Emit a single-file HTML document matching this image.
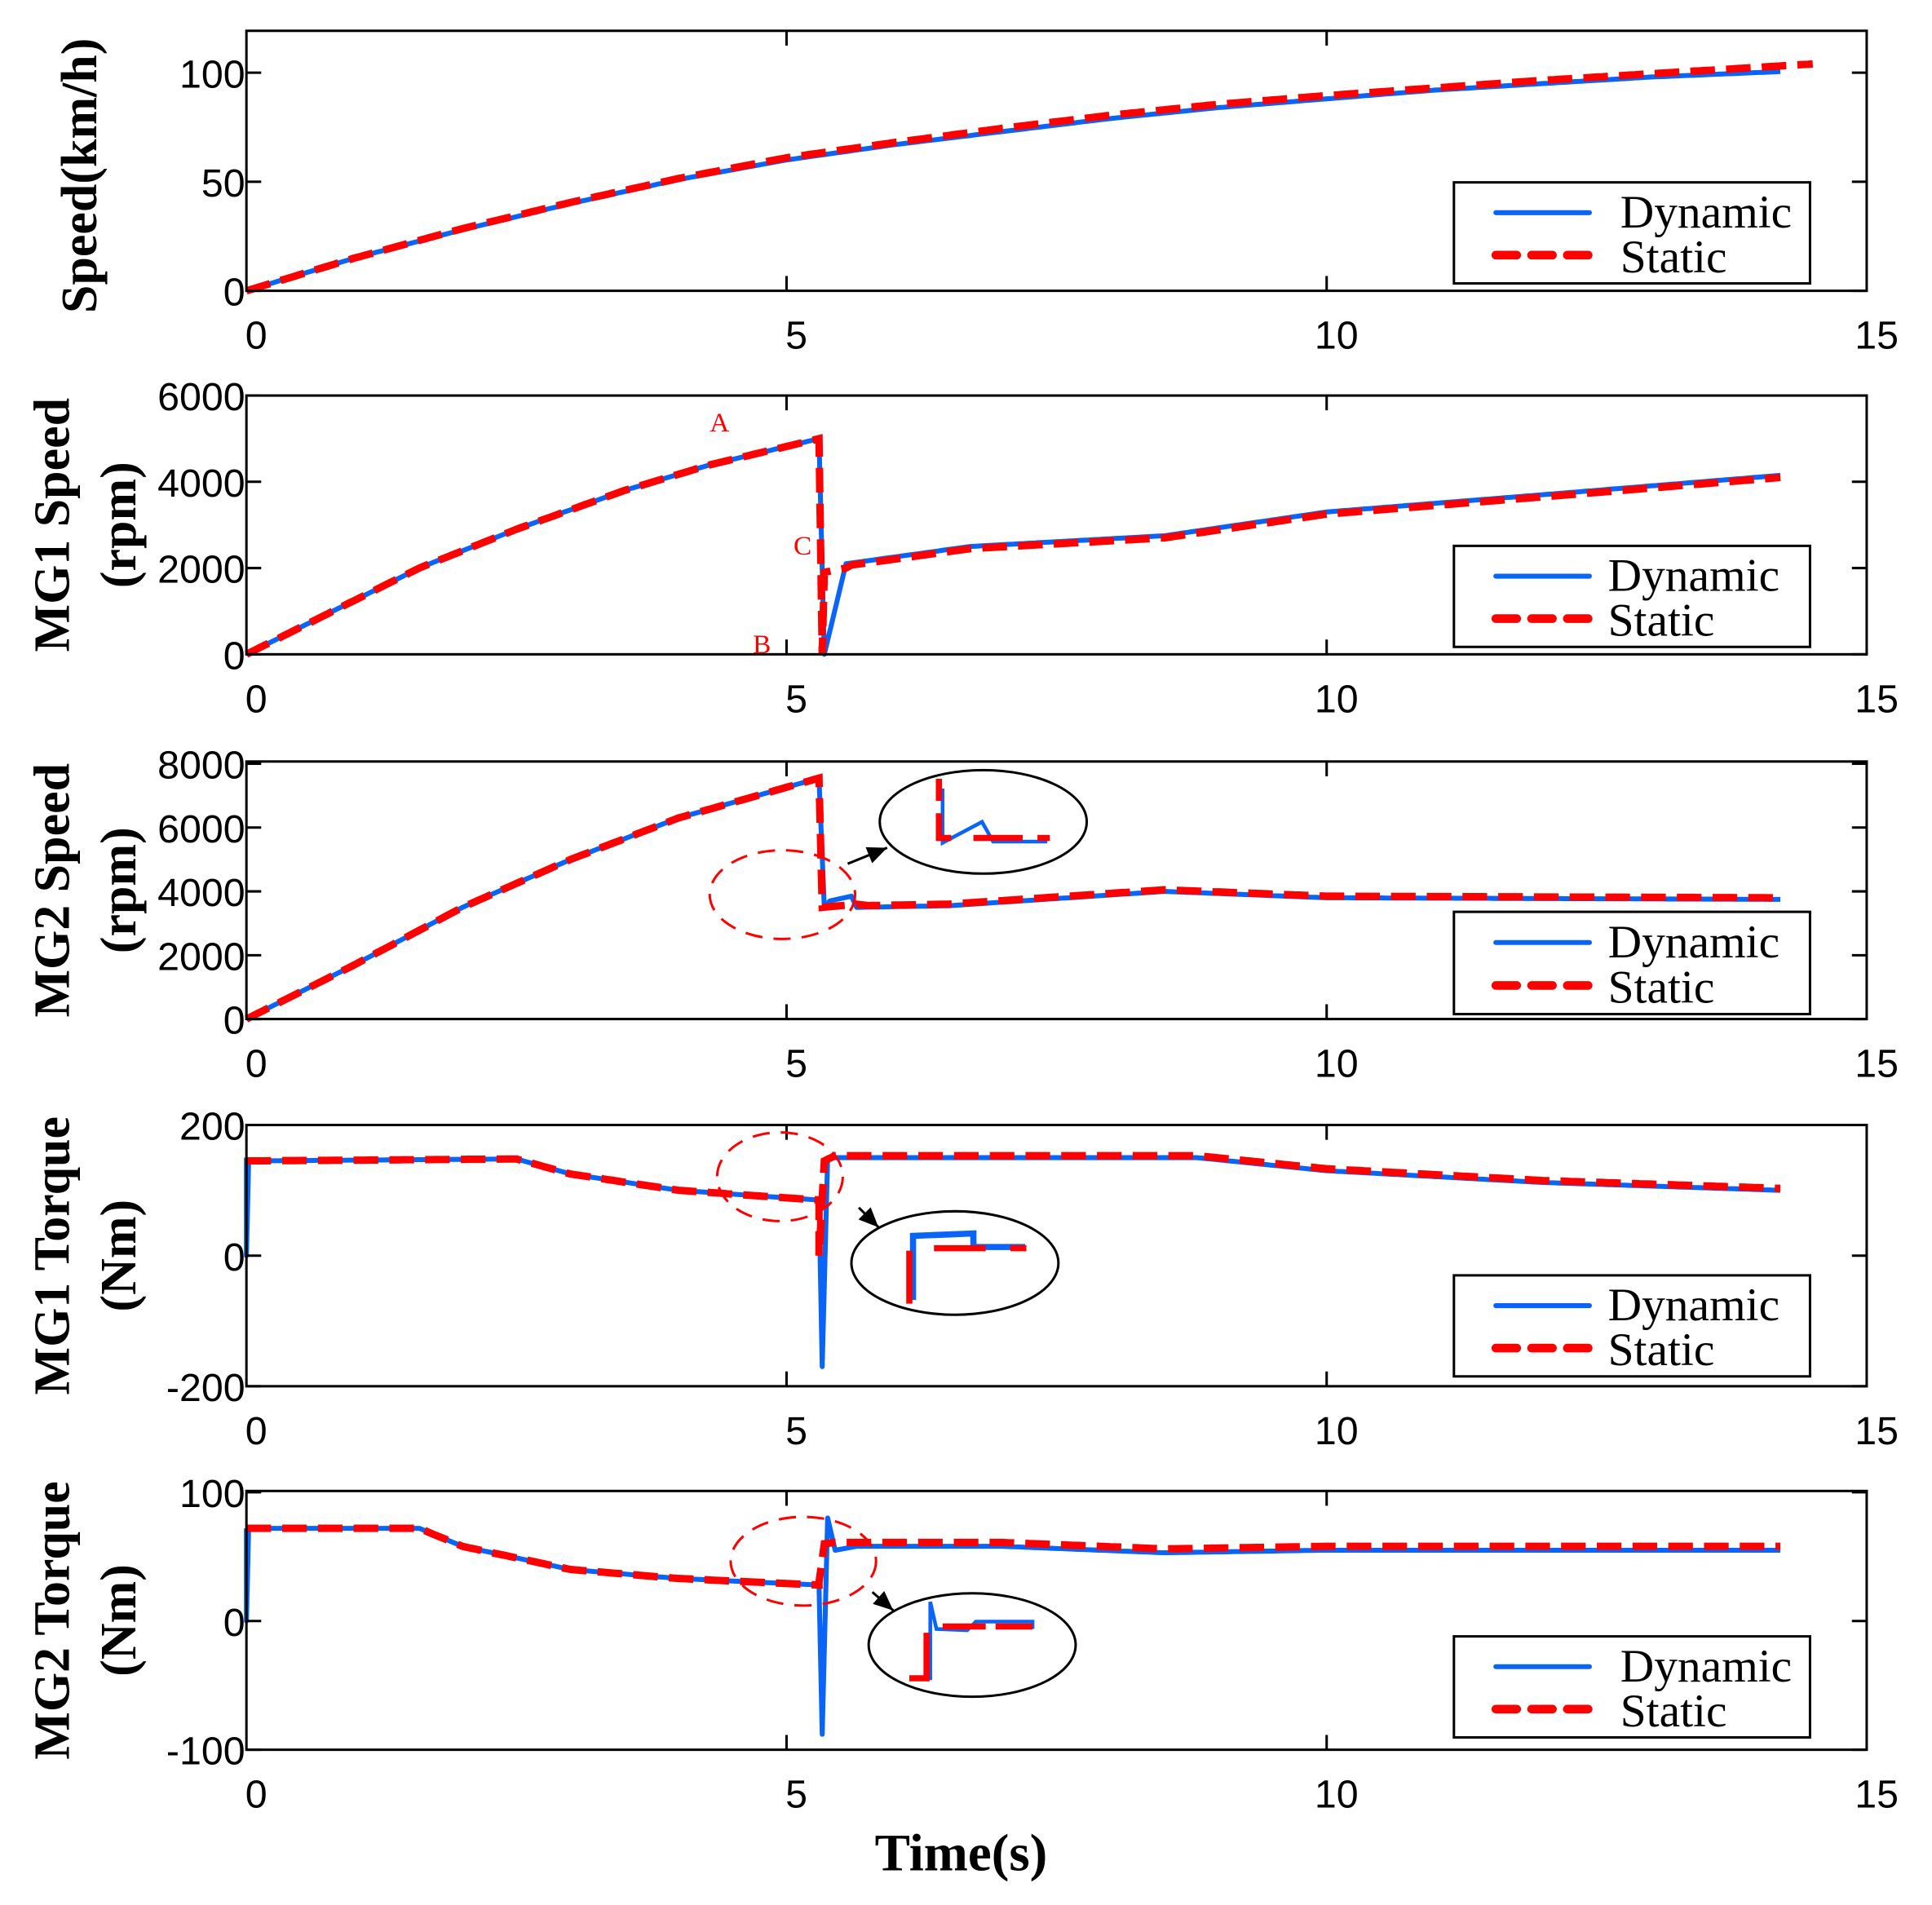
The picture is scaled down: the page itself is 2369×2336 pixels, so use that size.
<!DOCTYPE html>
<html><head><meta charset="utf-8"><style>html,body{margin:0;padding:0;background:#fff}svg{display:block}</style></head>
<body>
<svg id="s" xmlns="http://www.w3.org/2000/svg" width="2369" height="2336" viewBox="0 0 1568 1546" preserveAspectRatio="none" font-family="Liberation Sans, sans-serif">
<rect width="1568" height="1546" fill="#fff"/>
<g id="g"></g>
</svg>
<script>
const g=document.getElementById('g');let h='';
const X=t=>200+t*87.67;
function interp(pts,t){for(let i=1;i<pts.length;i++){if(t<=pts[i][0]){const a=pts[i-1],b=pts[i];const f=(t-a[0])/(b[0]-a[0]||1);return a[1]+f*(b[1]-a[1]);}}return pts[pts.length-1][1];}
function smooth(pts,t0,t1){const r=[];for(let t=t0;t<=t1+1e-9;t+=0.05)r.push([t,interp(pts,t)]);return r;}
const panels=[
 {top:25,bot:236,min:0,max:119.2,ticks:[0,50,100],lab:['Speed(km/h)'],leg:[148,230],lx:1315},
 {top:321,bot:531,min:0,max:6000,ticks:[0,2000,4000,6000],lab:['MG1 Speed','(rpm)'],leg:[443,525],lx:1305},
 {top:618,bot:827,min:0,max:8070,ticks:[0,2000,4000,6000,8000],lab:['MG2 Speed','(rpm)'],leg:[740,823],lx:1305},
 {top:913,bot:1125,min:-200,max:200,ticks:[-200,0,200],lab:['MG1 Torque','(Nm)'],leg:[1035,1117],lx:1305},
 {top:1210,bot:1420,min:-100,max:101,ticks:[-100,0,100],lab:['MG2 Torque','(Nm)'],leg:[1328,1410],lx:1315}
];
function path(p,pts){return pts.map((q,i)=>(i?'L':'M')+X(q[0]).toFixed(1)+','+(p.bot-(q[1]-p.min)/(p.max-p.min)*(p.bot-p.top)).toFixed(1)).join('');}
function blue(p,pts){h+=`<path d="${path(p,pts)}" fill="none" stroke="#0a64f5" stroke-width="4" stroke-linejoin="round"/>`;}
function red(p,pts){h+=`<path d="${path(p,pts)}" fill="none" stroke="#f00" stroke-width="6" stroke-dasharray="20 9"/>`;}
const sp=[[0,0],[1,15],[2,28],[3,40],[4,51],[5,60],[6,67],[7,73],[8,79],[9,84],[10,88],[11,92],[12,95],[13,98],[14.2,100.5],[14.5,101.5]];
const spr=[[0,0],[1,15],[2,28.5],[3,40.5],[4,51.5],[5,61],[6,68],[7,74.5],[8,80.5],[9,85.5],[10,89.5],[11,93],[12,96.5],[13,99.5],[14.5,104]];
const E=5.3;
const mg1a=[[0,0],[1,1250],[1.6,2000],[2.5,2900],[3.5,3800],[4.3,4400],[E,5000]];
const mg1b=[[5.55,2100],[6.7,2500],[8.5,2750],[10,3300],[12,3700],[14.2,4150]];
const mg2a=[[0,0],[1,1700],[2,3500],[3,5000],[4,6300],[E,7550]];
const mg2b=[[5.65,3500],[6.5,3550],[8.5,4000],[10,3800],[14.2,3750]];
const t1a=[[0,145],[2.5,148],[3,125],[4,100],[E,85]];
const t1b=[[5.4,150],[8.8,150],[10,130],[12,112],[14.2,100]];
const t2a=[[0,72],[1.6,72],[2,58],[3,40],[4,33],[E,28]];
const t2b=[[5.45,58],[7,58],[8.5,53],[10,55],[14.2,55]];
const P=panels;
blue(P[0],smooth(sp,0,14.2));red(P[0],smooth(spr,0,14.5));
blue(P[1],smooth(mg1a,0,E).concat([[5.35,0],[5.55,2100]],smooth(mg1b,5.55,14.2)));
red(P[1],smooth(mg1a,0,E).concat([[5.33,0],[5.35,1900],[5.55,2000]],smooth(mg1b,5.6,14.2).map(q=>[q[0],q[1]-50])));
blue(P[2],smooth(mg2a,0,E).concat([[5.35,3500],[5.4,3700],[5.6,3850],[5.65,3500]],smooth(mg2b,5.65,14.2)));
red(P[2],smooth(mg2a,0,E).concat([[5.33,3500],[5.65,3600]],smooth(mg2b,5.75,14.2).map(q=>[q[0],q[1]+50])));
blue(P[3],[[0,150],[0,0],[0.02,145]].concat(smooth(t1a,0.05,E),[[5.33,-170],[5.38,150]],smooth(t1b,5.4,14.2)));
red(P[3],smooth(t1a,0,E).concat([[E,0],[5.35,145]],smooth(t1b,5.45,14.2).map(q=>[q[0],q[1]+3])));
blue(P[4],[[0,72],[0,0],[0.02,72]].concat(smooth(t2a,0.05,E),[[5.33,-88],[5.38,80],[5.45,55],[5.65,58]],smooth(t2b,5.65,14.2)));
red(P[4],smooth(t2a,0,E).concat([[E,30],[5.35,60]],smooth(t2b,5.45,14.2).map(q=>[q[0],q[1]+3])));
P.forEach((p,i)=>{
 h+=`<rect x="200" y="${p.top}" width="1315" height="${p.bot-p.top}" fill="none" stroke="#000" stroke-width="2"/>`;
 [5,10].forEach(t=>{h+=`<line x1="${X(t)}" y1="${p.top}" x2="${X(t)}" y2="${p.top+12}" stroke="#000" stroke-width="2"/><line x1="${X(t)}" y1="${p.bot}" x2="${X(t)}" y2="${p.bot-12}" stroke="#000" stroke-width="2"/>`;});
 [0,5,10,15].forEach(t=>{h+=`<text x="${X(t)+8}" y="${p.bot+47}" font-size="32" text-anchor="middle">${t}</text>`;});
 p.ticks.forEach(v=>{const y=p.bot-(v-p.min)/(p.max-p.min)*(p.bot-p.top);
  h+=`<line x1="200" y1="${y}" x2="212" y2="${y}" stroke="#000" stroke-width="2"/><line x1="1515" y1="${y}" x2="1503" y2="${y}" stroke="#000" stroke-width="2"/>`;
  h+=`<text x="199" y="${y+12}" font-size="32" text-anchor="end">${v}</text>`;});
 const cy=(p.top+p.bot)/2;
 if(p.lab.length==1){h+=`<text transform="translate(78,${cy+12}) rotate(-90)" font-family="Liberation Serif, serif" font-weight="bold" font-size="41" text-anchor="middle">${p.lab[0]}</text>`;}
 else{h+=`<text transform="translate(56,${cy}) rotate(-90)" font-family="Liberation Serif, serif" font-weight="bold" font-size="41" text-anchor="middle">${p.lab[0]}</text><text transform="translate(110,${cy}) rotate(-90)" font-family="Liberation Serif, serif" font-weight="bold" font-size="41" text-anchor="middle">${p.lab[1]}</text>`;}
 const [ly0,ly1]=p.leg;const m1=ly0+(ly1-ly0)*0.3,m2=ly0+(ly1-ly0)*0.72;
 h+=`<rect x="1180" y="${ly0}" width="289" height="${ly1-ly0}" fill="#fff" stroke="#000" stroke-width="2"/>`;
 h+=`<line x1="1214" y1="${m1}" x2="1290" y2="${m1}" stroke="#0a64f5" stroke-width="4" stroke-linecap="round"/>`;
 h+=`<line x1="1214" y1="${m2}" x2="1290" y2="${m2}" stroke="#f00" stroke-width="7" stroke-dasharray="17 12" stroke-linecap="round"/>`;
 h+=`<text x="${p.lx}" y="${m1+12}" font-family="Liberation Serif, serif" font-size="38">Dynamic</text><text x="${p.lx}" y="${m2+14}" font-family="Liberation Serif, serif" font-size="38">Static</text>`;
});
h+=`<g font-family="Liberation Serif, serif" font-size="22" fill="#f00"><text x="576" y="350">A</text><text x="644" y="450">C</text><text x="611" y="530">B</text></g>`;
function zoomEl(cx,cy,rx,ry,ax1,ay1,ax2,ay2,ex,ey,erx,ery){
 h+=`<ellipse cx="${cx}" cy="${cy}" rx="${rx}" ry="${ry}" fill="none" stroke="#f00" stroke-width="2" stroke-dasharray="14 9"/>`;
 h+=`<line x1="${ax1}" y1="${ay1}" x2="${ax2}" y2="${ay2}" stroke="#000" stroke-width="2"/>`;
 const ang=Math.atan2(ay2-ay1,ax2-ax1),L=16,W=7;
 const bx=ax2-L*Math.cos(ang),by=ay2-L*Math.sin(ang);
 h+=`<polygon points="${ax2},${ay2} ${bx-W*Math.sin(ang)},${by+W*Math.cos(ang)} ${bx+W*Math.sin(ang)},${by-W*Math.cos(ang)}" fill="#000"/>`;
 h+=`<ellipse cx="${ex}" cy="${ey}" rx="${erx}" ry="${ery}" fill="none" stroke="#000" stroke-width="2"/>`;
}
zoomEl(635,726,59,36,688,701,720,688,798,667,84,42);
h+=`<polyline points="765,640 765,684 797,667 806,683 850,683" fill="none" stroke="#0a64f5" stroke-width="3"/>`;
h+=`<path d="M762,632V650M762,660V680H772M790,680H830M842,680H852" fill="none" stroke="#f00" stroke-width="5"/>`;
zoomEl(633,955,51,36,697,980,713,996,775,1025,84,42);
h+=`<polyline points="741,1055 741,1003 790,1001 790,1012 832,1012" fill="none" stroke="#0a64f5" stroke-width="5"/>`;
h+=`<path d="M738,1015V1058M758,1013H800M820,1013H833" fill="none" stroke="#f00" stroke-width="5"/>`;
zoomEl(652,1267,59,36,708,1292,725,1307,789,1335,84,42);
h+=`<polyline points="748,1362 755,1362 755,1300 760,1322 785,1323 792,1316 838,1316 838,1322" fill="none" stroke="#0a64f5" stroke-width="3"/>`;
h+=`<path d="M752,1325V1362H738M765,1320H800M808,1320H838" fill="none" stroke="#f00" stroke-width="5"/>`;
h+=`<text x="780" y="1518" font-family="Liberation Serif, serif" font-weight="bold" font-size="43" text-anchor="middle">Time(s)</text>`;
g.innerHTML=h;
</script>
</body></html>
